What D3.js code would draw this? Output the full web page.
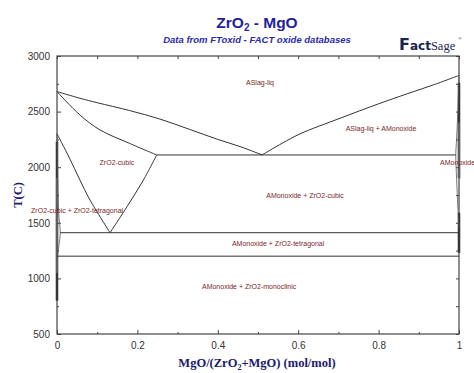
<!DOCTYPE html>
<html><head><meta charset="utf-8">
<script src="https://cdn.jsdelivr.net/npm/d3@7"></script>
<style>body{margin:0;background:#fff;}svg{display:block;}</style>
</head><body><svg id="c" width="474" height="373"></svg>
<script>
// ---- data ----
const xTicks = [0, 0.2, 0.4, 0.6, 0.8, 1];
const xMinorTicks = [0.1, 0.3, 0.5, 0.7, 0.9];
const yTicks = [500, 1000, 1500, 2000, 2500, 3000];
const yMinorTicks = [750, 1250, 1750, 2250, 2750];
const liquidusZr = [[0,2680],[0.057,2620],[0.1,2580],[0.18,2510],[0.256,2433],[0.33,2340],[0.4,2250],[0.46,2180],[0.51,2110]];
const liquidusMg = [[0.51,2110],[0.56,2215],[0.604,2299],[0.704,2440],[0.8,2570],[0.871,2660],[0.94,2745],[1,2825]];
const solidusCubic = [[0,2680],[0.057,2470],[0.107,2335],[0.18,2215],[0.248,2110]];
const cubicLeft = [[0,2300],[0.03,2090],[0.057,1885],[0.082,1705],[0.132,1411]];
const cubicRight = [[0.248,2110],[0.215,1885],[0.175,1650],[0.132,1411]];
const tetragonalSolvus = [[0,2300],[0.002,1900],[0.004,1600],[0.008,1411],[0.005,1300],[0.001,1200]];
const monoxideBoundary = [[1,2825],[0.997,2500],[0.994,2250],[0.992,2110],[0.994,1900],[0.997,1650],[1,1450]];
const eutecticLine = [[0.248,2110],[0.992,2110]];
const eutectoidLine = [[0.008,1411],[1,1411]];
const monoclinicLine = [[0,1200],[1,1200]];
const darkBands = [[0,2230,1900],[0,1050,800],[1,2760,2400],[1,1590,1230]];
const grayBands = [[0,1900,1050],[1,2400,1900]];
const labels = [
  ["ASlag-liq",0.505,2765],
  ["ASlag-liq + AMonoxide",0.806,2352],
  ["ZrO2-cubic",0.149,2038],
  ["AMonoxide + ZrO2-cubic",0.617,1741],
  ["ZrO2-cubic + ZrO2-tetragonal",0.05,1606],
  ["AMonoxide + ZrO2-tetragonal",0.55,1309],
  ["AMonoxide + ZrO2-monoclinic",0.478,923]
];
const edgeLabel = ["AMonoxide",0.953,2038];

// ---- drawing ----
const svg = d3.select("#c");
const L=57, R=459, T=56, B=334;
const x = d3.scaleLinear().domain([0,1]).range([L,R]);
const y = d3.scaleLinear().domain([500,3000]).range([B,T]);
const lineC = d3.line().x(d=>x(d[0])).y(d=>y(d[1])).curve(d3.curveCatmullRom);
const lineS = d3.line().x(d=>x(d[0])).y(d=>y(d[1]));

// axis bands
grayBands.forEach(b=>svg.append("line").attr("x1",x(b[0])).attr("x2",x(b[0])).attr("y1",y(b[1])).attr("y2",y(b[2])).attr("stroke","#8a8a8a").attr("stroke-width",3));
darkBands.forEach(b=>svg.append("line").attr("x1",x(b[0])).attr("x2",x(b[0])).attr("y1",y(b[1])).attr("y2",y(b[2])).attr("stroke","#222").attr("stroke-width",2.5));

// frame
svg.append("rect").attr("x",L).attr("y",T).attr("width",R-L).attr("height",B-T).attr("fill","none").attr("stroke","#444").attr("stroke-width",1.2);

// axes ticks
const g = svg.append("g");
g.append("g").attr("transform",`translate(0,${B})`).call(d3.axisBottom(x).tickValues(xTicks).tickSize(-4).tickPadding(8).tickFormat(d3.format("")));
g.append("g").attr("transform",`translate(0,${B})`).call(d3.axisBottom(x).tickValues(xMinorTicks).tickSize(-2).tickFormat(""));
g.append("g").attr("transform",`translate(0,${T})`).call(d3.axisTop(x).tickValues(xTicks.concat(xMinorTicks)).tickSize(-3).tickFormat(""));
g.append("g").attr("transform",`translate(${L},0)`).call(d3.axisLeft(y).tickValues(yTicks).tickSize(-4).tickPadding(7).tickFormat(d3.format("d")));
g.append("g").attr("transform",`translate(${L},0)`).call(d3.axisLeft(y).tickValues(yMinorTicks).tickSize(-2).tickFormat(""));
g.append("g").attr("transform",`translate(${R},0)`).call(d3.axisRight(y).tickValues(yTicks.concat(yMinorTicks)).tickSize(-3).tickFormat(""));
g.selectAll(".domain").remove();
g.selectAll(".tick line").attr("stroke","#444");
g.selectAll(".tick text").attr("font-family","Liberation Sans, Arial, sans-serif").attr("font-size","10px").attr("fill","#333");

// boundaries
const bstyle = s=>s.attr("fill","none").attr("stroke","#333").attr("stroke-width",1);
[liquidusZr, liquidusMg, solidusCubic, cubicLeft, cubicRight].forEach(d=>bstyle(svg.append("path").attr("d",lineC(d))));
[tetragonalSolvus, monoxideBoundary].forEach(d=>bstyle(svg.append("path").attr("d",lineC(d))).attr("stroke","#555").attr("stroke-width",0.8));
[eutecticLine, eutectoidLine, monoclinicLine].forEach(d=>bstyle(svg.append("path").attr("d",lineS(d))));

// labels
labels.forEach(l=>svg.append("text").attr("x",x(l[1])).attr("y",y(l[2])).attr("dy","0.35em").attr("text-anchor","middle")
  .attr("font-family","Liberation Sans, Arial, sans-serif").attr("font-size","7px").attr("fill","#7a2626").text(l[0]));
svg.append("text").attr("x",x(edgeLabel[1])).attr("y",y(edgeLabel[2])).attr("dy","0.35em").attr("text-anchor","start")
  .attr("font-family","Liberation Sans, Arial, sans-serif").attr("font-size","7px").attr("fill","#7a2626").text(edgeLabel[0]);

// title
const tt = svg.append("text").attr("x",257).attr("y",28).attr("text-anchor","middle")
  .attr("font-family","Liberation Sans, Arial, sans-serif").attr("font-weight","bold").attr("font-size","15.5px").attr("fill","#1f1f9e");
tt.append("tspan").text("ZrO");
tt.append("tspan").attr("font-size","10px").attr("dy","3").text("2");
tt.append("tspan").attr("dy","-3").text(" - MgO");
svg.append("text").attr("x",257).attr("y",43).attr("text-anchor","middle")
  .attr("font-family","Liberation Sans, Arial, sans-serif").attr("font-weight","bold").attr("font-style","italic").attr("font-size","9.5px").attr("fill","#2a2ab0")
  .text("Data from FToxid - FACT oxide databases");

// logo
const lg = svg.append("text").attr("x",399).attr("y",50).attr("fill","#1b2450");
lg.append("tspan").attr("font-family","DejaVu Sans, sans-serif").attr("font-weight","bold").attr("font-size","16px").text("F");
lg.append("tspan").attr("font-family","DejaVu Sans, sans-serif").attr("font-weight","bold").attr("font-size","12px").text("act");
lg.append("tspan").attr("font-family","Liberation Serif, serif").attr("font-size","12.5px").text("Sage");
svg.append("text").attr("x",458).attr("y",40).attr("fill","#1b2450").attr("font-family","Liberation Serif, serif").attr("font-size","5px").text("®");

// axis titles
const xt = svg.append("text").attr("x",257).attr("y",367).attr("text-anchor","middle")
  .attr("font-family","Liberation Serif, Times New Roman, serif").attr("font-weight","bold").attr("font-size","12.5px").attr("fill","#1a1a6e");
xt.append("tspan").text("MgO/(ZrO");
xt.append("tspan").attr("font-size","8px").attr("dy","3").text("2");
xt.append("tspan").attr("dy","-3").text("+MgO) (mol/mol)");
svg.append("text").attr("transform","translate(22,195) rotate(-90)").attr("text-anchor","middle")
  .attr("font-family","Liberation Serif, Times New Roman, serif").attr("font-weight","bold").attr("font-size","12.5px").attr("fill","#1a1a6e").text("T(C)");
</script></body></html>
